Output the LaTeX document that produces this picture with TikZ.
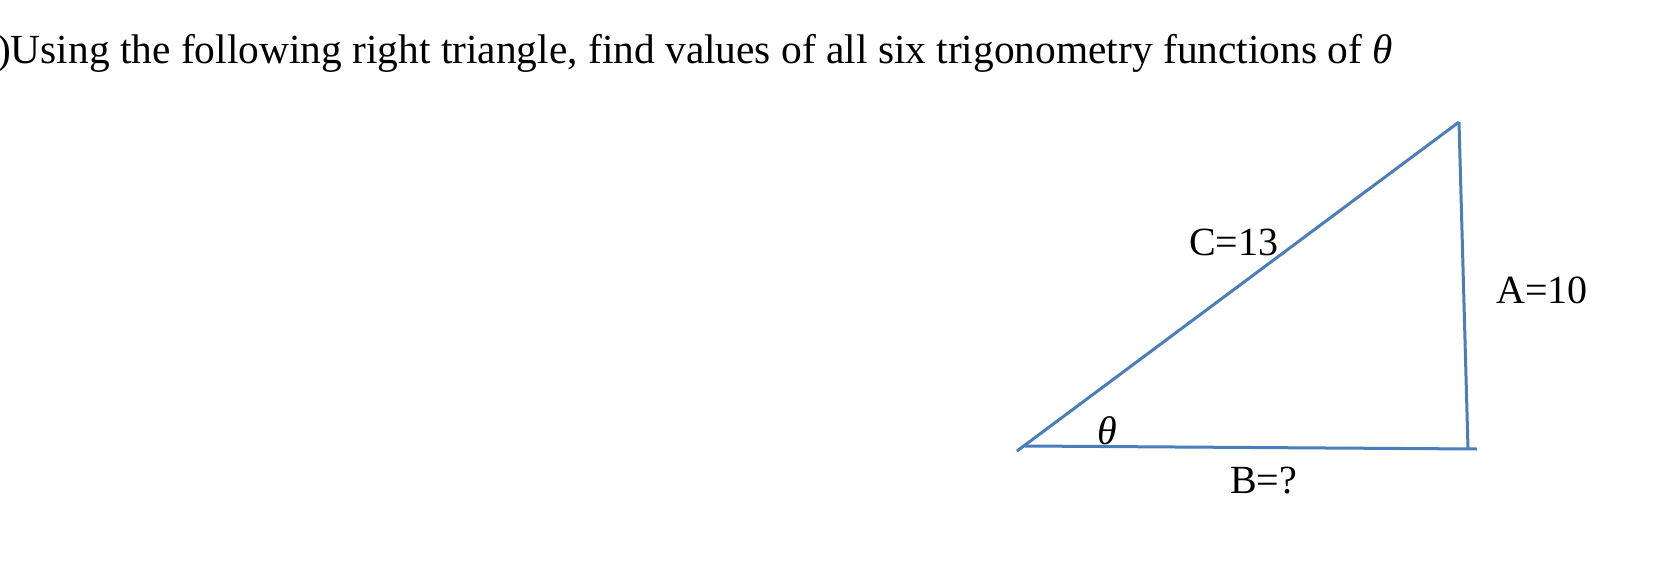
\documentclass[tikz,border=0pt]{standalone}
\usepackage{fontspec}
\setmainfont{Liberation Serif}
\definecolor{linecol}{HTML}{4A7EBB}
\begin{document}
\begin{tikzpicture}[x=1pt,y=-1pt,
  lbl/.style={anchor=base west,inner sep=0pt,font=\fontsize{40}{48}\selectfont},
  side/.style={draw=linecol,line width=3pt}]
\useasboundingbox (0,0) rectangle (1666,578);
\node[lbl,font=\fontsize{41.4}{50}\selectfont] (title) at (-3,64) {)Using the following right triangle, find values of all six trigonometry functions of {\itshape θ}};
\coordinate (Atip) at (1017,451);
\coordinate (Bl) at (1025,446);
\coordinate (T) at (1459,122);
\coordinate (R) at (1468,449);
\coordinate (Rr) at (1477,449);
\draw[side] (Atip) -- (T);
\draw[side] (T) -- (R);
\draw[side] (Bl) -- (Rr);
\node[lbl] (c) at (1189,255) {C=13};
\node[lbl] (a) at (1496,303) {A=10};
\node[lbl] (b) at (1230,493) {B=?};
\node[lbl] (th) at (1097,444) {\itshape θ};
\end{tikzpicture}
\end{document}
